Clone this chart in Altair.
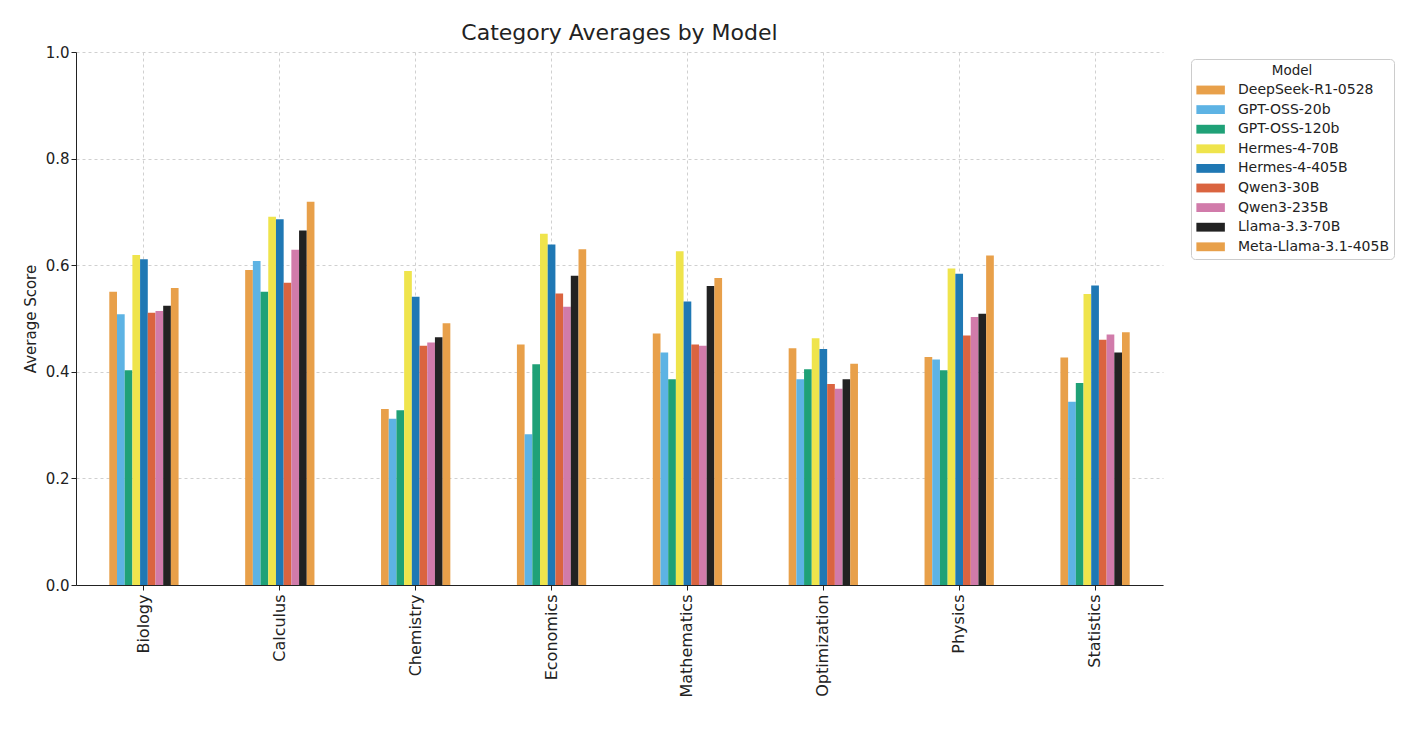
import altair as alt
import pandas as pd

categories = ["Biology", "Calculus", "Chemistry", "Economics", "Mathematics",
              "Optimization", "Physics", "Statistics"]
models = ["DeepSeek-R1-0528", "GPT-OSS-20b", "GPT-OSS-120b", "Hermes-4-70B",
          "Hermes-4-405B", "Qwen3-30B", "Qwen3-235B", "Llama-3.3-70B",
          "Meta-Llama-3.1-405B"]
colors = ["#E8A04A", "#5DB3E4", "#1FA177", "#EFE44C", "#1F78B4",
          "#DA6440", "#D17BAA", "#222222", "#E8A04A"]

deepseek = [0.550, 0.591, 0.330, 0.451, 0.472, 0.444, 0.428, 0.427]
gpt20 = [0.508, 0.608, 0.312, 0.283, 0.436, 0.386, 0.423, 0.344]
gpt120 = [0.403, 0.550, 0.328, 0.414, 0.386, 0.405, 0.403, 0.379]
hermes70 = [0.619, 0.691, 0.589, 0.659, 0.626, 0.463, 0.594, 0.546]
hermes405 = [0.611, 0.686, 0.541, 0.639, 0.532, 0.443, 0.584, 0.562]
qwen30 = [0.511, 0.567, 0.449, 0.547, 0.451, 0.377, 0.468, 0.460]
qwen235 = [0.514, 0.629, 0.455, 0.522, 0.449, 0.368, 0.503, 0.470]
llama70 = [0.524, 0.665, 0.465, 0.580, 0.561, 0.386, 0.509, 0.436]
meta405 = [0.557, 0.719, 0.491, 0.630, 0.576, 0.415, 0.618, 0.474]

series = [deepseek, gpt20, gpt120, hermes70, hermes405, qwen30, qwen235,
          llama70, meta405]

rows = []
for m, vals in zip(models, series):
    for c, v in zip(categories, vals):
        rows.append({"Category": c, "Model": m, "Score": v})
df = pd.DataFrame(rows)

FONT = "DejaVu Sans"

chart = alt.Chart(df).mark_bar().encode(
    x=alt.X("Category:N", sort=categories,
            scale=alt.Scale(paddingInner=0.49, paddingOuter=0.245),
            axis=alt.Axis(title=None, labelAngle=-90, labelFontSize=16,
                          labelColor="#222", grid=True, gridDash=[3, 3],
                          gridColor="#d0d0d0", domainColor="#222",
                          tickColor="#222", labelPadding=4)),
    xOffset=alt.XOffset("Model:N", sort=models),
    y=alt.Y("Score:Q", scale=alt.Scale(domain=[0, 1]),
            axis=alt.Axis(title="Average Score", values=[0, 0.2, 0.4, 0.6, 0.8, 1.0],
                          format=".1f", labelFontSize=15, titleFontSize=15,
                          titleFontWeight="normal", labelColor="#222",
                          titleColor="#222", gridDash=[3, 3], gridColor="#d0d0d0",
                          domainColor="#222", tickColor="#222", titlePadding=7)),
    color=alt.Color("Model:N", sort=models,
                    scale=alt.Scale(domain=models, range=colors),
                    legend=alt.Legend(title="Model", orient="none",
                                      legendX=1115, legendY=7,
                                      titleAnchor="middle", titleFontSize=13.5,
                                      titleFontWeight="normal", labelFontSize=14,
                                      titleColor="#222", labelColor="#222",
                                      titlePadding=5,
                                      symbolType="M-1,-0.62H3V0.62H-1Z",
                                      symbolSize=203, symbolStrokeWidth=0,
                                      strokeColor="#cccccc", cornerRadius=4,
                                      padding=5, rowPadding=4.6, labelOffset=27,
                                      fillColor="white")),
).properties(
    width=1087, height=533,
    padding={"left": 15, "top": 14, "right": 5, "bottom": 5},
    title=alt.Title("Category Averages by Model", fontSize=22, fontWeight="normal",
                    color="#222", frame="group", anchor="middle", offset=0),
).configure(font=FONT).configure_view(stroke=None)

chart.save("out.html", embed_options={"renderer": "svg", "actions": False})
